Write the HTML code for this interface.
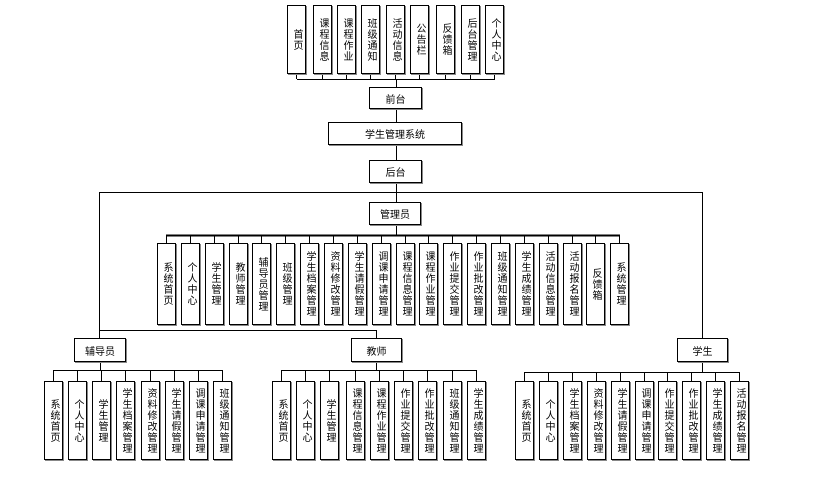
<!DOCTYPE html>
<html><head><meta charset="utf-8"><style>
body{margin:0;width:827px;height:482px;background:#fff;position:relative;overflow:hidden;font-family:"Liberation Sans","Noto Sans CJK SC",sans-serif;}
.b{position:absolute;box-sizing:border-box;border:1px solid #000;background:#fff;box-shadow:1px 1px 0 #888;display:flex;align-items:center;justify-content:center;font-size:10px;color:#000;}
.v{width:19px;writing-mode:vertical-rl;letter-spacing:1px;line-height:11px;}
.t{top:5px;height:69px}
.a{top:243px;height:82px}
.c{top:381px;height:79px}
svg{position:absolute;left:0;top:0}
</style></head><body>
<svg width="827" height="482" stroke="#000" stroke-width="1" fill="none">
<path d="M297 79.5H495M296.5 74V79M322.5 74V79M346.5 74V79M370.5 74V79M395.5 74V79M419.5 74V79M445.5 74V79M470.5 74V79M494.5 74V79"/>
<path d="M396.5 79V87M396.5 109V122M396.5 145V160M396.5 183V202"/>
<path d="M99 192.5H703M99.5 192V338M702.5 192V338M99 330.5H377M376.5 330V338"/>
<path d="M396.5 225V235"/>
<path d="M166 235.5H620" stroke-width="2"/>
<path d="M166.5 235V243M190.5 235V243M214.5 235V243M238.5 235V243M261.5 235V243M285.5 235V243M309.5 235V243M333.5 235V243M357.5 235V243M381.5 235V243M405.5 235V243M428.5 235V243M452.5 235V243M476.5 235V243M500.5 235V243M524.5 235V243M548.5 235V243M572.5 235V243M595.5 235V243M619.5 235V243"/>
<path d="M100.5 362V370M53 370.5H223M53.5 370V381M77.5 370V381M101.5 370V381M125.5 370V381M150.5 370V381M174.5 370V381M198.5 370V381M222.5 370V381"/>
<path d="M376.5 362V370M281 370.5H477M281.5 370V381M305.5 370V381M329.5 370V381M355.5 370V381M379.5 370V381M403.5 370V381M427.5 370V381M452.5 370V381M476.5 370V381"/>
<path d="M702.5 362V372M524 372.5H740M524.5 372V381M548.5 372V381M572.5 372V381M596.5 372V381M620.5 372V381M644.5 372V381M667.5 372V381M691.5 372V381M715.5 372V381M739.5 372V381"/>
</svg>

<div class="b v t" style="left:287px">首页</div>
<div class="b v t" style="left:313px">课程信息</div>
<div class="b v t" style="left:337px">课程作业</div>
<div class="b v t" style="left:361px">班级通知</div>
<div class="b v t" style="left:386px">活动信息</div>
<div class="b v t" style="left:410px">公告栏</div>
<div class="b v t" style="left:436px">反馈箱</div>
<div class="b v t" style="left:461px">后台管理</div>
<div class="b v t" style="left:485px">个人中心</div>

<div class="b" style="left:369px;top:87px;width:53px;height:22px">前台</div>
<div class="b" style="left:328px;top:122px;width:134px;height:23px">学生管理系统</div>
<div class="b" style="left:369px;top:160px;width:53px;height:23px">后台</div>
<div class="b" style="left:369px;top:202px;width:52px;height:23px">管理员</div>

<div class="b v a" style="left:157px">系统首页</div>
<div class="b v a" style="left:181px">个人中心</div>
<div class="b v a" style="left:205px">学生管理</div>
<div class="b v a" style="left:229px">教师管理</div>
<div class="b v a" style="left:252px">辅导员管理</div>
<div class="b v a" style="left:276px">班级管理</div>
<div class="b v a" style="left:300px">学生档案管理</div>
<div class="b v a" style="left:324px">资料修改管理</div>
<div class="b v a" style="left:348px">学生请假管理</div>
<div class="b v a" style="left:372px">调课申请管理</div>
<div class="b v a" style="left:396px">课程信息管理</div>
<div class="b v a" style="left:419px">课程作业管理</div>
<div class="b v a" style="left:443px">作业提交管理</div>
<div class="b v a" style="left:467px">作业批改管理</div>
<div class="b v a" style="left:491px">班级通知管理</div>
<div class="b v a" style="left:515px">学生成绩管理</div>
<div class="b v a" style="left:539px">活动信息管理</div>
<div class="b v a" style="left:563px">活动报名管理</div>
<div class="b v a" style="left:586px">反馈箱</div>
<div class="b v a" style="left:610px">系统管理</div>

<div class="b" style="left:74px;top:338px;width:52px;height:24px">辅导员</div>
<div class="b" style="left:351px;top:338px;width:51px;height:24px">教师</div>
<div class="b" style="left:677px;top:338px;width:51px;height:24px">学生</div>

<div class="b v c" style="left:44px">系统首页</div>
<div class="b v c" style="left:68px">个人中心</div>
<div class="b v c" style="left:92px">学生管理</div>
<div class="b v c" style="left:116px">学生档案管理</div>
<div class="b v c" style="left:141px">资料修改管理</div>
<div class="b v c" style="left:165px">学生请假管理</div>
<div class="b v c" style="left:189px">调课申请管理</div>
<div class="b v c" style="left:213px">班级通知管理</div>

<div class="b v c" style="left:272px">系统首页</div>
<div class="b v c" style="left:296px">个人中心</div>
<div class="b v c" style="left:320px">学生管理</div>
<div class="b v c" style="left:346px">课程信息管理</div>
<div class="b v c" style="left:370px">课程作业管理</div>
<div class="b v c" style="left:394px">作业提交管理</div>
<div class="b v c" style="left:418px">作业批改管理</div>
<div class="b v c" style="left:443px">班级通知管理</div>
<div class="b v c" style="left:467px">学生成绩管理</div>

<div class="b v c" style="left:515px">系统首页</div>
<div class="b v c" style="left:539px">个人中心</div>
<div class="b v c" style="left:563px">学生档案管理</div>
<div class="b v c" style="left:587px">资料修改管理</div>
<div class="b v c" style="left:611px">学生请假管理</div>
<div class="b v c" style="left:635px">调课申请管理</div>
<div class="b v c" style="left:658px">作业提交管理</div>
<div class="b v c" style="left:682px">作业批改管理</div>
<div class="b v c" style="left:706px">学生成绩管理</div>
<div class="b v c" style="left:730px">活动报名管理</div>
</body></html>
